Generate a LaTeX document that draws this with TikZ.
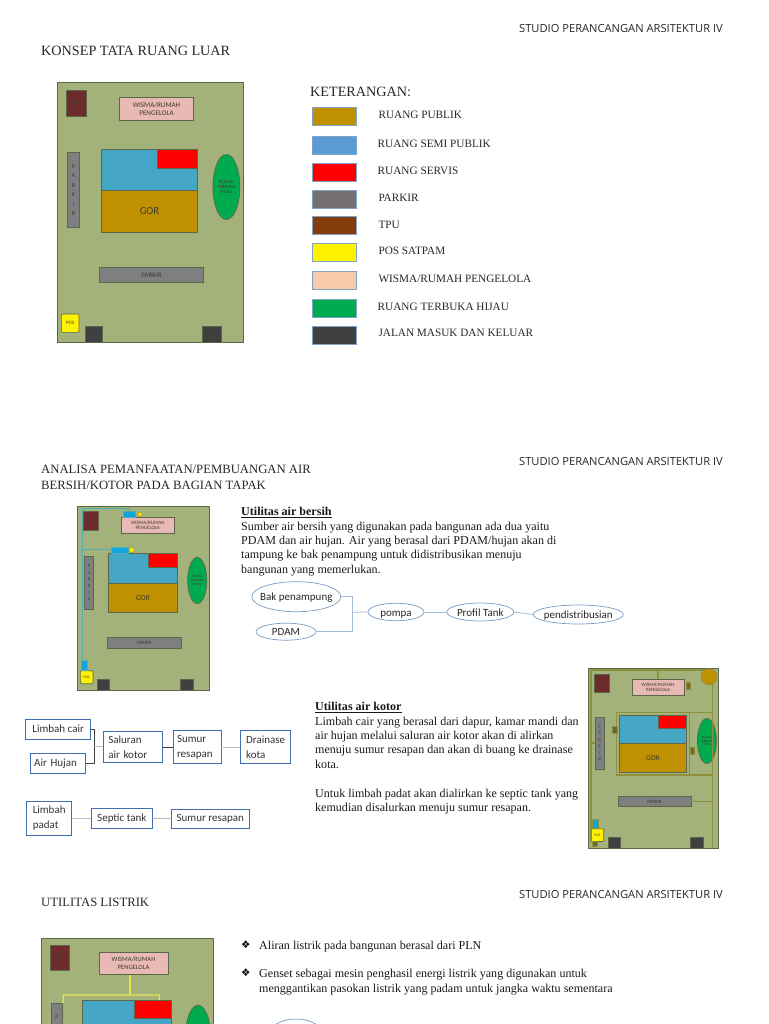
\documentclass[tikz,border=0pt]{standalone}
\usepackage{fontspec}
\setmainfont{Liberation Serif}
\newfontfamily\calibrifont{Carlito}
\newfontfamily\studiofont{Open Sans}
\newfontfamily\dingfont{DejaVu Sans}
\usetikzlibrary{shapes.geometric, positioning, calc}
\definecolor{planGreen}{HTML}{A3B17B}
\definecolor{planEdge}{HTML}{5C6648}
\definecolor{planBlue}{HTML}{45A6C6}
\definecolor{planGold}{HTML}{BF9000}
\definecolor{planGray}{HTML}{7F7F7F}
\definecolor{planTpu}{HTML}{6E2B2B}
\definecolor{planPink}{HTML}{E8B9B5}
\definecolor{planLawn}{HTML}{00AB50}
\definecolor{planDark}{HTML}{404040}
\definecolor{planInk}{HTML}{3F3A30}
\definecolor{legBlue}{HTML}{5B9BD5}
\definecolor{legGray}{HTML}{767171}
\definecolor{legBrown}{HTML}{843C0C}
\definecolor{legPeach}{HTML}{F8CBAD}
\definecolor{legEdge}{HTML}{7FA3C4}
\definecolor{boxBlue}{HTML}{3F6FAF}
\definecolor{linkBlue}{HTML}{A5BBD6}
\definecolor{linkGray}{HTML}{BDBDBD}
\definecolor{linkDark}{HTML}{404040}
\definecolor{pipeTeal}{HTML}{4FAFB5}
\definecolor{tankBlue}{HTML}{12A5DC}
\definecolor{pipeOlive}{HTML}{8F8F3C}
\definecolor{cableYellow}{HTML}{E6E650}
\tikzset{
  planbox/.style={draw=planEdge, line width=.7pt, inner sep=0pt, text=planInk, align=center},
  planfont/.style={font=\calibrifont\fontsize{#1}{#1}\selectfont},
  swatch/.style={draw=legEdge, line width=.8pt, minimum width=44pt, minimum height=18pt, inner sep=0pt},
  legtext/.style={anchor=west, inner sep=0pt, font=\fontsize{11.25}{14}\selectfont, text=black!85},
  title/.style={anchor=west, inner sep=0pt, align=left, font=\fontsize{12.7}{16}\selectfont, text=black!85},
  studio/.style={anchor=east, inner sep=0pt, font=\studiofont\fontsize{11.15}{13}\selectfont, text=black!85},
  bodytext/.style={anchor=north west, inner sep=0pt, align=left, font=\fontsize{12.05}{14.45}\selectfont, text=black!90},
  flowbox/.style={draw=boxBlue, line width=.8pt, inner sep=0pt, inner xsep=5pt, align=left,
    font=\calibrifont\fontsize{11}{15}\selectfont, text=black!80},
  flowoval/.style={ellipse, draw=boxBlue!70, line width=.7pt, inner sep=0pt,
    font=\calibrifont\fontsize{11}{13}\selectfont, text=black!85},
  tank/.style={draw=pipeTeal, fill=tankBlue, line width=.4pt, inner sep=0pt},
  valve/.style={draw=pipeOlive, fill=pipeOlive!75!black, line width=.4pt, inner sep=0pt},
  pipeclean/.style={draw=pipeTeal, line width=.9pt},
  pipedirty/.style={draw=pipeOlive, line width=1.1pt},
  cable/.style={draw=cableYellow, line width=1.2pt}
}
\newcommand{\ovaltext}[1]{\raisebox{-.8ex}[0pt][0pt]{\makebox[0pt]{#1}}}
\newcommand{\sitehead}[3]{
  \node[planbox, fill=planGreen, minimum width=186pt, minimum height=260pt] (#1frame) at (93,130) {};
  \node[planbox, fill=planTpu, minimum width=20.6pt, minimum height=26.6pt, planfont=6.5] (#1tpu) at (19.4,21.4) {TPU};
  \node[planbox, fill=planPink, minimum width=74.4pt, minimum height=23pt, planfont=7.1] (#1wisma) at (99.5,27.2) {WISMA/RUMAH\\[1pt]PENGELOLA};
  \node[planbox, fill=planGray, minimum width=12.6pt, minimum height=74.6pt, planfont=6] (#1parkirA) at (16.4,108) {#2};
  \node[planbox, fill=planBlue, minimum width=96.4pt, minimum height=41.4pt] (#1semi) at (92.5,88) {};
  \node[planbox, fill=red, minimum width=40.7pt, minimum height=19.4pt] (#1servis) at (120.3,77) {};
  \node[planbox, ellipse, fill=planLawn, minimum width=27pt, minimum height=65pt, planfont=4.8] (#1hijau) at (169.4,105) {#3};
}
\newcommand{\sitefoot}[1]{
  \node[planbox, fill=planGold, minimum width=96.4pt, minimum height=41.6pt, planfont=10.6] (#1gor) at (92.5,129.5) {GOR};
  \node[planbox, fill=planGray, minimum width=104.4pt, minimum height=14.3pt, planfont=7] (#1parkirB) at (94.5,192.8) {PARKIR};
  \node[planbox, fill=yellow, minimum width=17.7pt, minimum height=18.3pt, rounded corners=1pt, planfont=5] (#1pos) at (13.2,241.2) {POS};
  \node[planbox, fill=planDark, minimum width=17.7pt, minimum height=16pt, planfont=4.5] (#1in) at (36.8,252.3) {IN};
  \node[planbox, fill=planDark, minimum width=18.7pt, minimum height=16pt, planfont=4.5] (#1out) at (154.6,252.3) {OUT};
}
\newcommand{\siteplan}[5]{
  \begin{scope}[shift={(#2,#3)}, xscale=#4, yscale=#5, transform shape]
    \sitehead{#1}{P\\[3.4pt]A\\[3.4pt]R\\[3.4pt]K\\[3.4pt]I\\[3.4pt]R}{RUANG\\[.6pt]TERBUKA\\[.6pt]HIJAU}
    \sitefoot{#1}
  \end{scope}
}
\begin{document}
\begin{tikzpicture}[x=1pt, y=-1pt]
  \useasboundingbox (0,0) rectangle (768,1024);
  \clip (0,0) rectangle (768,1024);

  \node[studio] (studioA) at (723,28.7) {STUDIO PERANCANGAN ARSITEKTUR IV};
  \node[studio] (studioB) at (723,461.7) {STUDIO PERANCANGAN ARSITEKTUR IV};
  \node[studio] (studioC) at (723,894.7) {STUDIO PERANCANGAN ARSITEKTUR IV};
  \node[title, font=\fontsize{14.2}{17}\selectfont] (titleTata) at (41,50.5) {KONSEP TATA RUANG LUAR};
  \node[title] (titleAir) at (41,477.5) {ANALISA PEMANFAATAN/PEMBUANGAN AIR\\BERSIH/KOTOR PADA BAGIAN TAPAK};
  \node[title] (titleListrik) at (41,902) {UTILITAS LISTRIK};

  \siteplan{tata}{57}{82}{1}{1}
  \siteplan{bersih}{77.3}{506}{.708}{.71}
  \siteplan{kotor}{588.3}{668.3}{.70}{.692}
  \begin{scope}[shift={(41.7,938.3)}, scale=.923, transform shape]
    \sitehead{listrik}{}{}
    \node[planfont=6, text=planInk, inner sep=0pt] (listrikLetter) at (16.4,85) {P};
  \end{scope}

  \node[title, font=\fontsize{14.2}{17}\selectfont] (legTitle) at (310,92) {KETERANGAN:};
  \node[swatch, fill=planGold] (legPublik) at (334.5,116) {};
  \node[swatch, fill=legBlue] (legSemi) at (334.5,145.5) {};
  \node[swatch, fill=red] (legServis) at (334.5,172.5) {};
  \node[swatch, fill=legGray] (legParkir) at (334.5,199) {};
  \node[swatch, fill=legBrown] (legTpu) at (334.5,225.3) {};
  \node[swatch, fill=yellow] (legPos) at (334.5,252.3) {};
  \node[swatch, fill=legPeach] (legWisma) at (334.5,280) {};
  \node[swatch, fill=planLawn] (legHijau) at (334.5,308) {};
  \node[swatch, fill=planDark] (legJalan) at (334.5,335) {};
  \node[legtext] (txtPublik) at (378.3,114.7) {RUANG PUBLIK};
  \node[legtext] (txtSemi) at (377.5,143.5) {RUANG SEMI PUBLIK};
  \node[legtext] (txtServis) at (377.5,171) {RUANG SERVIS};
  \node[legtext] (txtParkir) at (378.3,197.5) {PARKIR};
  \node[legtext] (txtTpu) at (378.3,225) {TPU};
  \node[legtext] (txtPos) at (378.3,251) {POS SATPAM};
  \node[legtext] (txtWisma) at (378.3,279) {WISMA/RUMAH PENGELOLA};
  \node[legtext] (txtHijau) at (377.5,306.7) {RUANG TERBUKA HIJAU};
  \node[legtext] (txtJalan) at (378.3,333.3) {JALAN MASUK DAN KELUAR};

  \node[bodytext] (textBersih) at (241,507) {\underline{\textbf{Utilitas air bersih}}\\
    Sumber air bersih yang digunakan pada bangunan ada dua yaitu\\
    PDAM dan air hujan. Air yang berasal dari PDAM/hujan akan di\\
    tampung ke bak penampung untuk didistribusikan menuju\\
    bangunan yang memerlukan.};
  \node[bodytext] (textKotor) at (315,702) {\underline{\textbf{Utilitas air kotor}}\\
    Limbah cair yang berasal dari dapur, kamar mandi dan\\
    air hujan melalui saluran air kotor akan di alirkan\\
    menuju sumur resapan dan akan di buang ke drainase\\
    kota.\\[14.45pt]
    Untuk limbah padat akan dialirkan ke septic tank yang\\
    kemudian disalurkan menuju sumur resapan.};

  \node[flowoval, minimum width=89pt, minimum height=30pt] (bakOval) at (296.3,596.7) {\ovaltext{Bak penampung}};
  \node[flowoval, minimum width=60pt, minimum height=17pt] (pdamOval) at (286,631.7) {\ovaltext{PDAM}};
  \node[flowoval, minimum width=56pt, minimum height=17.5pt] (pompaOval) at (396,612) {\ovaltext{pompa}};
  \node[flowoval, minimum width=67pt, minimum height=18pt] (tankOval) at (480.3,612) {\ovaltext{Profil Tank}};
  \node[flowoval, minimum width=90pt, minimum height=19pt] (distribOval) at (578.3,614.5) {\ovaltext{pendistribusian}};
  \coordinate (bersihJoin) at (352.3,612.3);
  \draw[linkBlue, line width=.8pt] (bakOval.east) -| (bersihJoin);
  \draw[linkBlue, line width=.8pt] (pdamOval.east) -| (bersihJoin);
  \draw[linkBlue, line width=.8pt] (bersihJoin) -- (pompaOval.west);
  \draw[linkBlue, line width=.8pt] (pompaOval.east) -- (tankOval.west);
  \draw[linkBlue, line width=.8pt] (tankOval.east) -- (distribOval.west);

  \node[flowbox, minimum width=65pt, minimum height=19.7pt] (cairBox) at (58.2,729.2) {Limbah cair};
  \node[flowbox, inner xsep=3.5pt, text width=48pt, minimum height=19.6pt] (hujanBox) at (58.2,763.5) {Air Hujan};
  \node[flowbox, text width=49pt, minimum height=30.6pt] (saluranBox) at (132.8,747) {Saluran\\air kotor};
  \node[flowbox, inner xsep=3.7pt, text width=40.3pt, minimum height=32.6pt] (sumurBox) at (197.2,747) {Sumur\\resapan};
  \node[flowbox, minimum width=50pt, minimum height=32.6pt] (drainaseBox) at (265.7,747) {Drainase\\kota};
  \node[flowbox, minimum width=45pt, minimum height=33.3pt] (padatBox) at (49.2,818.3) {Limbah\\padat};
  \node[flowbox, minimum width=61pt, minimum height=19.3pt] (septicBox) at (121.8,818.3) {Septic tank};
  \node[flowbox, minimum width=76pt, minimum height=18.7pt] (resapanBox) at (210.3,818.7) {Sumur resapan};
  \coordinate (kotorJoin) at (94,746);
  \draw[linkDark, line width=.6pt] (cairBox.east) -| (kotorJoin);
  \draw[linkDark, line width=.6pt] (hujanBox.east) -| (kotorJoin);
  \draw[linkGray, line width=.8pt] (kotorJoin) -- (saluranBox.west |- kotorJoin);
  \draw[linkDark, line width=.8pt] (saluranBox.east) -- (sumurBox.west);
  \draw[linkGray, line width=1pt] (sumurBox.east) -- (drainaseBox.west);
  \draw[linkGray, line width=1pt] (padatBox.east) -- (septicBox.west);
  \draw[linkGray, line width=1pt] (septicBox.east) -- (resapanBox.west);

  % pipa air bersih
  \node[tank, minimum width=11.7pt, minimum height=5.4pt] (tankTop) at (129.2,514) {};
  \node[tank, minimum width=16.7pt, minimum height=5.7pt] (tankMid) at (119.4,549.9) {};
  \node[tank, minimum width=6pt, minimum height=10pt] (tankPos) at (84.3,665) {};
  \node[circle, draw=planGold, fill=yellow, line width=.4pt, inner sep=0pt, minimum size=4pt] (pumpTop) at (140,514.3) {};
  \node[circle, draw=planGold, fill=yellow, line width=.4pt, inner sep=0pt, minimum size=5pt] (pumpMid) at (131.7,550) {};
  \coordinate (cleanCorner) at (82.3,508.3);
  \draw[pipeclean] (cleanCorner |- tankPos.north) -- (cleanCorner) -| (tankTop.north);
  \draw[pipeclean] (cleanCorner |- tankMid) -- (tankMid.west);

  % pipa air kotor
  \coordinate (dirtyNW) at (591,670);
  \coordinate (dirtyNE) at (712.3,670);
  \coordinate (roomNW) at (616.7,712.3);
  \coordinate (roomSE) at (712.3,775);
  \draw[pipedirty] (591,842) -- (dirtyNW) -- (dirtyNE) -- (712.3,848);
  \draw[pipedirty] (kotorwisma.north) -- (kotorwisma.north |- dirtyNW);
  \draw[pipedirty] (roomNW) rectangle (roomSE);
  \draw[pipedirty] (689.3,712.3) -- (689.3,775);
  \draw[pipedirty] (kotorparkirA.west) -- (kotorparkirA.west -| dirtyNW);
  \draw[pipedirty] (kotorparkirB.east) -- (kotorparkirB.east -| dirtyNE);
  \node[circle, draw=pipeOlive, fill=planGold, line width=.6pt, inner sep=0pt, minimum size=16pt] (septicPit) at (709,676.7) {};
  \node[valve, minimum width=4.7pt, minimum height=7.6pt] (valveWisma) at (688.3,685.5) {};
  \node[valve, minimum width=4.4pt, minimum height=7.7pt] (valveSemi) at (614.5,729.8) {};
  \node[valve, minimum width=4.3pt, minimum height=7.6pt] (valveGor) at (692.2,750.5) {};
  \node[valve, minimum width=5.6pt, minimum height=4.3pt] (valvePos) at (594.5,843.8) {};
  \node[tank, draw=pipeOlive, minimum width=6pt, minimum height=9pt] (tankKotor) at (595.3,823.2) {};

  % jaringan listrik
  \coordinate (cableWest) at (63.3,995);
  \coordinate (cableEast) at (159.3,995);
  \draw[cable] (130,975) -- (130,995);
  \draw[cable] (listrikparkirA.north east) -- (cableWest) -- (cableEast) -- (cableEast |- listrikservis.north);

  \node[anchor=west, inner sep=0pt, font=\dingfont\fontsize{10.5}{12}\selectfont] (bulletPln) at (241,944.5) {❖};
  \node[anchor=west, inner sep=0pt, font=\dingfont\fontsize{10.5}{12}\selectfont] (bulletGenset) at (241,972.5) {❖};
  \node[bodytext] (textPln) at (259,941) {Aliran listrik pada bangunan berasal dari PLN};
  \node[bodytext] (textGenset) at (259,969) {Genset sebagai mesin penghasil energi listrik yang digunakan untuk\\
    menggantikan pasokan listrik yang padam untuk jangka waktu sementara};
  \node[flowoval, minimum width=54pt, minimum height=32pt] (plnOval) at (296,1035) {};
\end{tikzpicture}
\end{document}
